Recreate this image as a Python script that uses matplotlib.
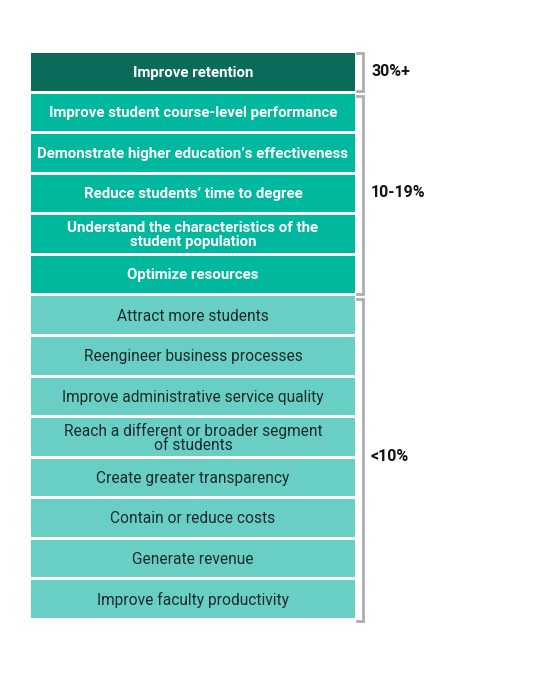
import matplotlib.pyplot as plt
import numpy as np

# Goals, top to bottom, and which percentage band each belongs to
goals = [
    "Improve retention",
    "Improve student course-level performance",
    "Demonstrate higher education\u2019s effectiveness",
    "Reduce students\u2019 time to degree",
    "Understand the characteristics of the\nstudent population",
    "Optimize resources",
    "Attract more students",
    "Reengineer business processes",
    "Improve administrative service quality",
    "Reach a different or broader segment\nof students",
    "Create greater transparency",
    "Contain or reduce costs",
    "Generate revenue",
    "Improve faculty productivity",
]
band_labels = ["30%+", "10-19%", "<10%"]
band_sizes = [1, 5, 8]

band_colors = ["#0b6b5a", "#00b89e", "#69cfc5"]
band_text = ["white", "white", "#1c2b2b"]
band_weight = ["bold", "bold", "normal"]
band_fs = [10.8, 10.8, 11.2]

plt.rcParams['font.family'] = ['Roboto', 'DejaVu Sans']

W, H = 538, 675
fig = plt.figure(figsize=(W / 100, H / 100), dpi=100)
top_px, row_px = 53, 40.57
n = len(goals)
ax = fig.add_axes([31 / W, 1 - (top_px + n * row_px) / H, 324 / W, n * row_px / H])
ax.set_xlim(0, 1)
ax.set_ylim(n, 0)
ax.axis("off")

band_of_row = np.repeat(np.arange(len(band_sizes)), band_sizes)
y = np.arange(n) + 0.5 - 0.037
ax.barh(y, 1, height=0.925, left=0,
        color=[band_colors[b] for b in band_of_row], edgecolor="none", zorder=1)

for yi, g, b in zip(y, goals, band_of_row):
    ax.text(0.5, yi + 0.02, g, ha="center", va="center", fontsize=band_fs[b],
            color=band_text[b], fontweight=band_weight[b], linespacing=0.95, zorder=2)

# brackets and band labels
bx = 1 + 8 / 324
tick = 1 + 2 / 324
start = 0
for lab, size in zip(band_labels, band_sizes):
    end = start + size
    y0 = start + (0.06 if start > 0 else 0)
    y1 = end - (0.06 if end < n else 0)
    ax.plot([tick, bx, bx, tick], [y0, y0, y1, y1], color="#adadad",
            lw=2, clip_on=False, solid_joinstyle="miter", zorder=3)
    ax.text(1 + 16 / 324, start + size / 2 - 0.05, lab, ha="left", va="center",
            fontsize=11.5, fontweight="bold", color="#111111")
    start = end

fig.savefig("out.png", dpi=100)
